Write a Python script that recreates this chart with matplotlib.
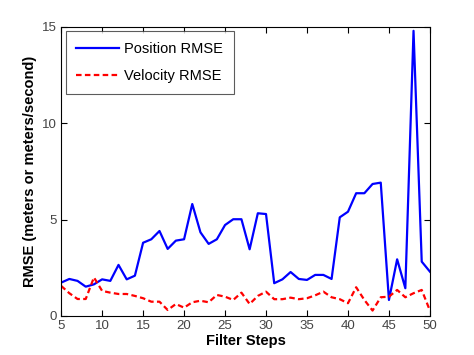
import numpy as np
import matplotlib
matplotlib.use("Agg")
import matplotlib.pyplot as plt

plt.rcParams['font.family'] = ['Liberation Sans', 'DejaVu Sans']

steps = list(range(5, 51))

position_rmse = [1.73, 1.92, 1.82, 1.52, 1.64, 1.90, 1.82, 2.65, 1.90, 2.09,
                 3.80, 3.98, 4.41, 3.48, 3.91, 3.98, 5.81, 4.34, 3.74, 3.98,
                 4.72, 5.02, 5.02, 3.46, 5.33, 5.29, 1.70, 1.90, 2.28, 1.92,
                 1.87, 2.13, 2.13, 1.92, 5.12, 5.41, 6.37, 6.37, 6.85, 6.92,
                 0.83, 2.94, 1.44, 14.8, 2.82, 2.30]

velocity_rmse = [1.56, 1.18, 0.88, 0.88, 2.00, 1.30, 1.21, 1.14, 1.14, 1.04,
                 0.92, 0.74, 0.74, 0.31, 0.62, 0.43, 0.71, 0.79, 0.71, 1.09,
                 1.00, 0.83, 1.21, 0.62, 1.04, 1.26, 0.87, 0.87, 0.95, 0.87,
                 0.92, 1.07, 1.26, 0.97, 0.87, 0.66, 1.49, 0.83, 0.28, 0.97,
                 1.00, 1.35, 0.97, 1.18, 1.35, 0.28]

x_ticks = [5, 10, 15, 20, 25, 30, 35, 40, 45, 50]
y_ticks = [0, 5, 10, 15]

fig = plt.figure(figsize=(4.74, 3.55), dpi=100)
ax = fig.add_axes([0.129, 0.110, 0.778, 0.814])

ax.plot(steps, position_rmse, color='#0000ff', linewidth=1.6, label='Position RMSE')
ax.plot(steps, velocity_rmse, color='#ff0000', linewidth=1.6, linestyle='--',
        dashes=(2.5, 1.5), label='Velocity RMSE')

ax.set_xlim(5, 50)
ax.set_ylim(0, 15)
ax.set_xticks(x_ticks)
ax.set_yticks(y_ticks)
ax.tick_params(direction='in', top=True, right=True, length=4, width=0.8,
               labelsize=9.5, labelcolor='#444444', pad=3)
for s in ax.spines.values():
    s.set_linewidth(0.8)

ax.set_xlabel('Filter Steps', fontsize=10.5, fontweight='bold', labelpad=1)
ax.set_ylabel('RMSE (meters or meters/second)', fontsize=10.5, fontweight='bold', labelpad=4)

leg = ax.legend(loc='upper left', fontsize=10.5, handlelength=2.9, borderpad=0.75,
                labelspacing=0.85, fancybox=False, edgecolor='#333333',
                borderaxespad=0.3, handletextpad=0.35)
leg.get_frame().set_linewidth(0.8)

fig.savefig('out.png', dpi=100)
